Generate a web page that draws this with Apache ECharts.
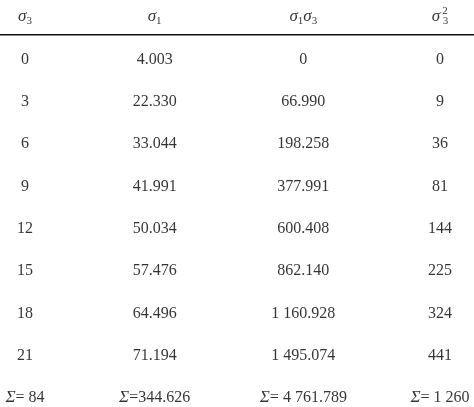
<!DOCTYPE html>
<html><head><meta charset="utf-8">
<script src="https://cdn.jsdelivr.net/npm/echarts@6/dist/echarts.min.js"></script>
<style>html,body{margin:0;background:#fff}#c{width:474px;height:407px}</style>
</head><body><div id="c"></div>
<script>
const columns = ['sigma3','sigma1','sigma1sigma3','sigma3sq'];
const sigma3 = ['0','3','6','9','12','15','18','21'];
const sigma1 = ['4.003','22.330','33.044','41.991','50.034','57.476','64.496','71.194'];
const sigma1sigma3 = ['0','66.990','198.258','377.991','600.408','862.140','1 160.928','1 495.074'];
const sigma3sq = ['0','9','36','81','144','225','324','441'];
const sums = ['Σ= 84','Σ=344.626','Σ= 4 761.789','Σ= 1 260'];
const headers = ['{i|σ}{s|3}','{i|σ}{s|1}','{i|σ}{s|1}{i|σ}{s|3}','{i|σ}{s| 3}'];
const rows = ['h','r0','r1','r2','r3','r4','r5','r6','r7','sum'];
const colOffset = [-5, -12, 0, 0];
const font = 'Liberation Serif';
const rich = {
  i:{fontFamily:font,fontStyle:'italic',fontSize:17,color:'#000'},
  s:{fontFamily:font,fontSize:11,color:'#000',padding:[8,0,0,0]}
};
const data = [];
headers.forEach((h,c)=>data.push({value:[c,'h'],t:h}));
[sigma3,sigma1,sigma1sigma3,sigma3sq].forEach((arr,c)=>arr.forEach((v,r)=>data.push({value:[c,'r'+r],t:v})));
sums.forEach((s,c)=>data.push({value:[c,'sum'],t:s.replace('Σ','{i|Σ}')}));
data.forEach(d=>{d.label={offset:[colOffset[d.value[0]],0]};});
const chart = echarts.init(document.getElementById('c'));
chart.setOption({
  animation:false,
  grid:{left:30,right:34,top:17,bottom:9},
  xAxis:{type:'category',data:columns,boundaryGap:false,show:false},
  yAxis:{type:'category',data:rows,inverse:true,boundaryGap:false,show:false},
  graphic:[{type:'rect',shape:{x:0,y:34,width:474,height:1.5},style:{fill:'#111'}}],
  series:[{
    type:'scatter',symbolSize:0,data:data,
    label:{show:true,position:'inside',formatter:p=>p.data.t,fontFamily:font,fontSize:16,color:'#000',rich:rich}
  },{
    type:'scatter',symbolSize:0,data:[{value:[3,'h']}],
    label:{show:true,position:'inside',offset:[5,-6],formatter:'2',fontFamily:font,fontSize:11,color:'#000'}
  }]
});
</script></body></html>
